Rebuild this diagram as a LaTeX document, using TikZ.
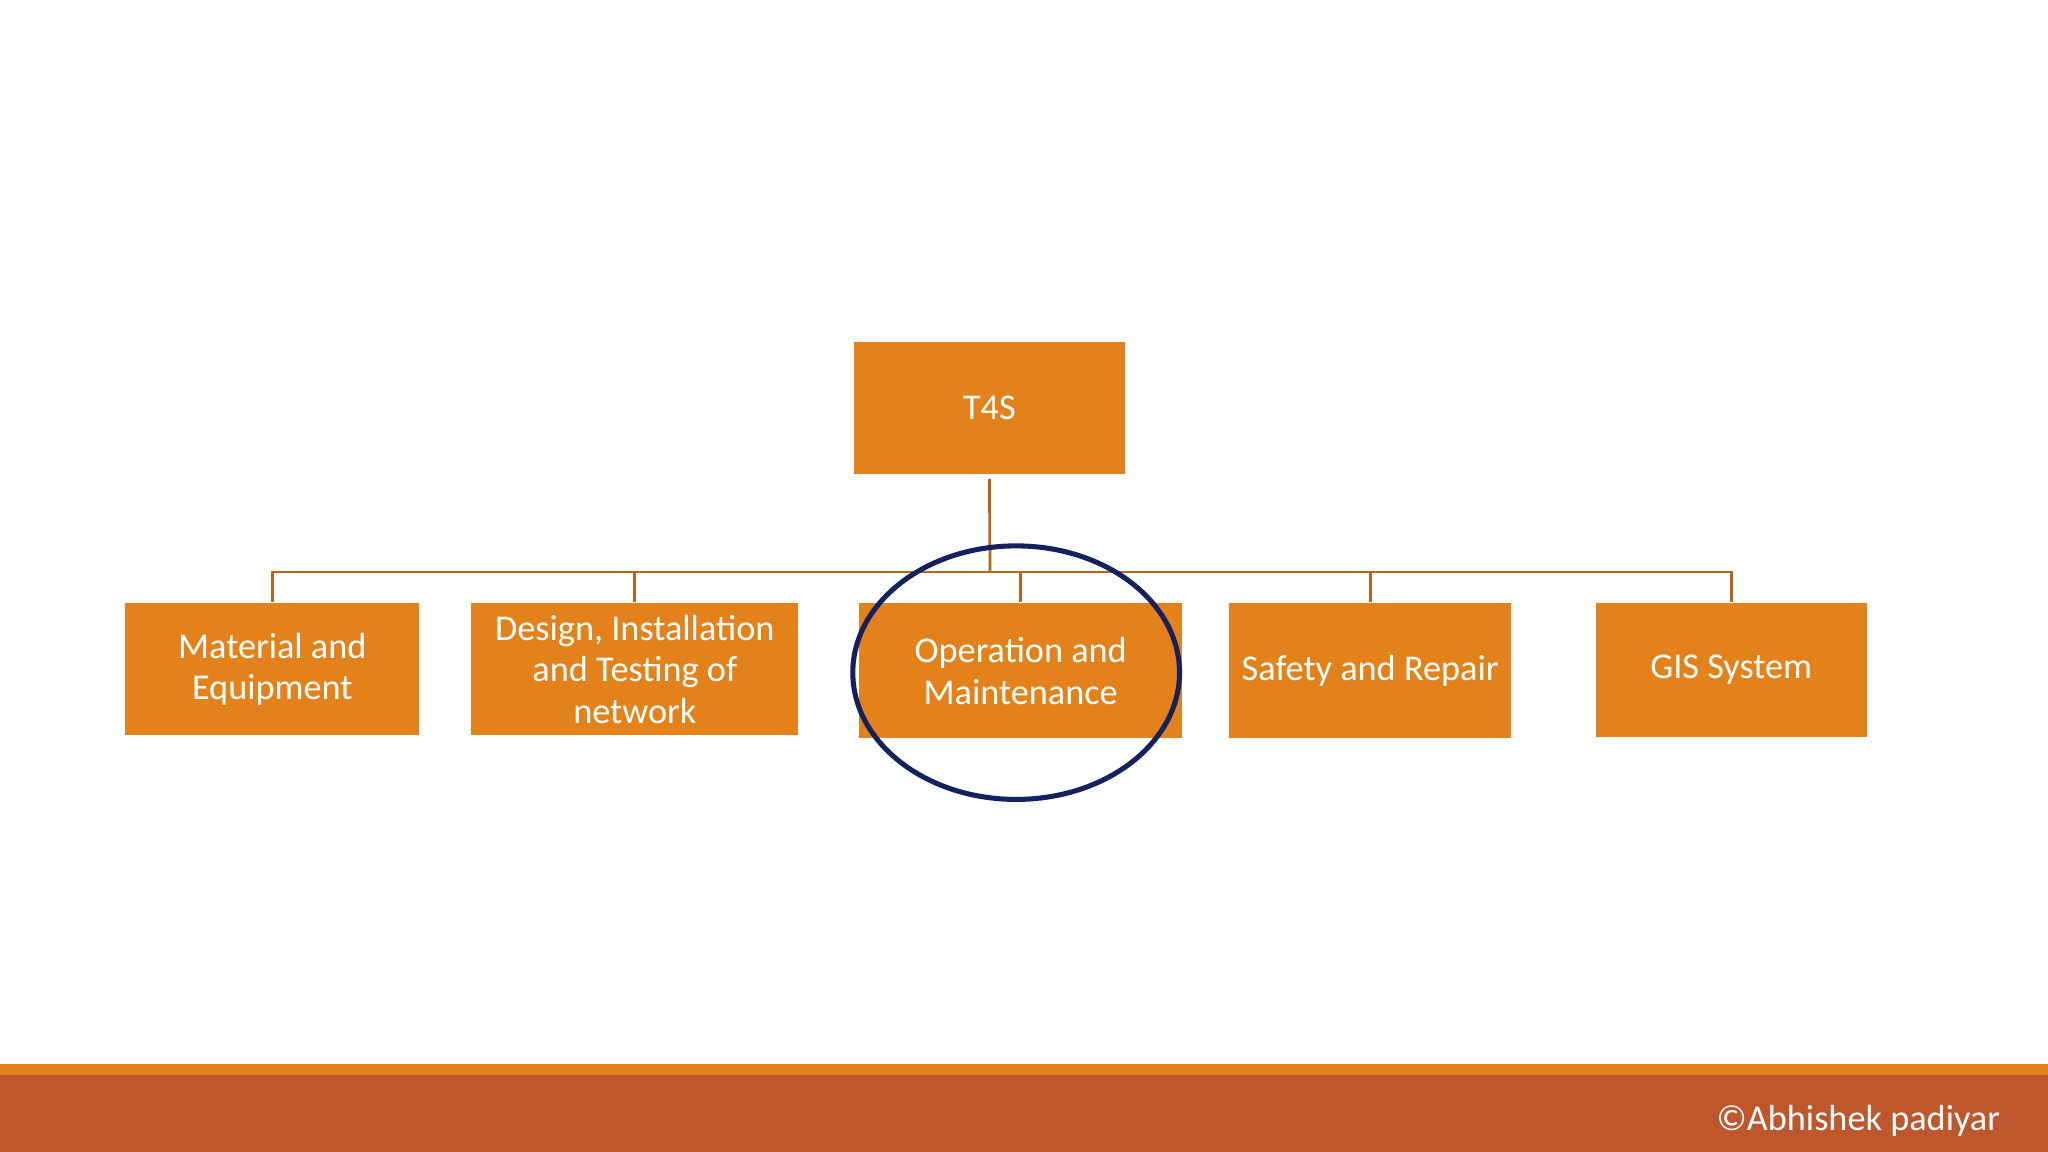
\documentclass[tikz,border=0pt]{standalone}
\usepackage{fontspec}
\setmainfont{Carlito}
\definecolor{boxor}{HTML}{E3821A}
\definecolor{lineor}{HTML}{B8651E}
\definecolor{rust}{HTML}{BE572C}
\definecolor{navy}{HTML}{14215E}
\begin{document}
\begin{tikzpicture}[x=0.01cm,y=-0.01cm,
  box/.style={fill=boxor,text=white,align=center,inner sep=0pt,font=\fontsize{7.9}{9.1}\selectfont},
  conn/.style={draw=lineor,line width=0.6pt}]
\useasboundingbox (0,0) rectangle (1568,882);
\fill[white] (0,0) rectangle (1568,882);
\node[box,minimum width=2.07cm,minimum height=1.01cm] (t) at (757.5,312.5) {T4S};
\node[box,minimum width=2.25cm,minimum height=1.01cm] (m) at (208.5,512.5) {Material and\\Equipment};
\node[box,minimum width=2.50cm,minimum height=1.01cm] (d) at (486,512.5) {Design, Installation\\and Testing of\\network};
\node[box,minimum width=2.47cm,minimum height=1.03cm] (o) at (781.5,513.5) {Operation and\\Maintenance};
\node[box,minimum width=2.16cm,minimum height=1.03cm] (s) at (1049,513.5) {Safety and Repair};
\node[box,minimum width=2.07cm,minimum height=1.02cm] (g) at (1325.5,513) {GIS System};
\coordinate (h) at (758,438);
\draw[conn] (t.south) ++(0,3) -- (h);
\draw[conn] (m.north) -- (m.north |- h) -- (g.north |- h) -- (g.north);
\foreach \n in {d,o,s} \draw[conn] (\n.north) -- (\n.north |- h);
\draw[navy,line width=1.1pt] (778,515) ellipse [x radius=1.25cm, y radius=0.97cm];
\fill[boxor] (0,815) rectangle (1568,823);
\fill[rust] (0,823) rectangle (1568,882);
\node[anchor=east,text=white,font=\fontsize{7.9}{9}\selectfont,inner sep=0pt] (c) at (1532,858) {©Abhishek padiyar};
\end{tikzpicture}
\end{document}
